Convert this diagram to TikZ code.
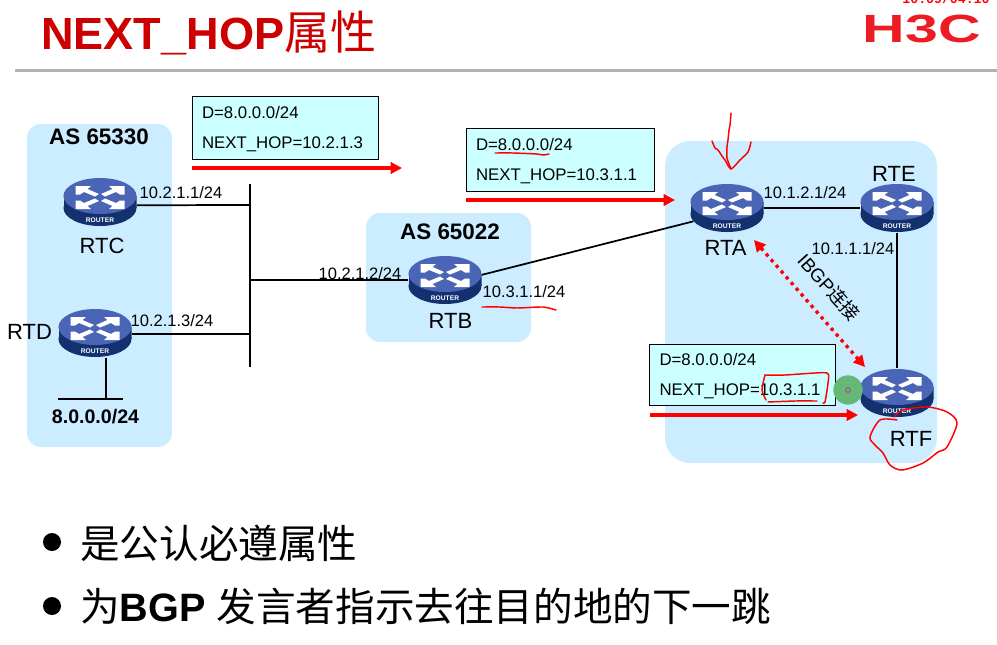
\documentclass[tikz,border=0pt]{standalone}
\usepackage{fontspec}
\setmainfont{Liberation Sans}
\newfontfamily\cjk{Noto Sans CJK SC}
\newfontfamily\clockfont{Liberation Mono}
\usetikzlibrary{arrows.meta}
\definecolor{panelblue}{HTML}{CCECFF}
\definecolor{boxcyan}{HTML}{CCFFFF}
\definecolor{routertop}{HTML}{4A65B5}
\definecolor{routerside}{HTML}{13306F}
\definecolor{h3cred}{HTML}{ED1C24}
\definecolor{titlered}{HTML}{CC0000}
\definecolor{rulegrey}{HTML}{B2B2B2}
\definecolor{markgreen}{HTML}{66B877}
\newcommand{\routerglyph}{\fill[white]
	(-24.5,-16) -- (-9,-16) -- (-12.5,-13) -- (-1,-8) -- (-5,-5.5) -- (-16,-10) -- (-20,-7.5) -- (-24.5,-7.5) -- cycle
	(24.5,-16) -- (9,-16) -- (12.5,-13) -- (1,-8) -- (5,-5.5) -- (16,-10) -- (20,-7.5) -- (24.5,-7.5) -- cycle
	(-24.5,7) -- (-9,7) -- (-12.5,4) -- (-1,-1) -- (-5,-3.5) -- (-16,1) -- (-20,-1.5) -- (-24.5,-1.5) -- cycle
	(24.5,7) -- (9,7) -- (12.5,4) -- (1,-1) -- (5,-3.5) -- (16,1) -- (20,-1.5) -- (24.5,-1.5) -- cycle;}
\begin{document}
\begin{tikzpicture}[x=0.75pt,y=-0.75pt,
	panel/.style={fill=panelblue, rounded corners=10.5pt, inner sep=0pt},
	infobox/.style={draw, fill=boxcyan, font=\fontsize{12.6}{22.5}\selectfont, align=left, text width=124.5pt, inner xsep=7.5pt, inner ysep=0pt, minimum height=47pt, execute at begin node=\rule{0pt}{10.8pt}},
	addr/.style={font=\fontsize{12.4}{14}\selectfont, inner sep=0pt},
	rname/.style={font=\fontsize{16.5}{18}\selectfont, inner sep=0pt},
	asname/.style={font=\fontsize{16.8}{18}\selectfont\bfseries, inner sep=0pt},
	wire/.style={line width=1.3pt},
	flow/.style={red, line width=2.5pt, -{Triangle[length=8.5pt,width=8.5pt]}},
	ink/.style={red, line width=1.1pt, line join=round, line cap=round},
	bulletdot/.style={circle, fill=black, minimum size=13.5pt, inner sep=0pt},
	bullettext/.style={font=\fontsize{29.7}{32}\selectfont, anchor=west, inner sep=0pt},
	router/.style={rectangle, minimum width=55pt, minimum height=37pt, inner sep=0pt,
		path picture={
			\begin{scope}[shift={(path picture bounding box.center)}]
				\fill[routerside] (-36.5,-6) rectangle (36.5,6);
				\fill[routerside] (0,6) ellipse [x radius=27.4pt, y radius=13.5pt];
				\fill[routertop] (0,-6) ellipse [x radius=27.4pt, y radius=13.5pt];
				\routerglyph
				\node[white, inner sep=0pt, font=\fontsize{5}{5}\selectfont\bfseries] (routertag) at (0,18) {ROUTER};
			\end{scope}
		}}]
	\useasboundingbox (0,0) rectangle (997,644);

	\node[anchor=base, inner sep=0pt, red, font=\fontsize{9.9}{10}\clockfont\bfseries] (clock) at (946,3) {10:09/04:10};
	\node[inner sep=0pt, text=h3cred, font=\fontsize{29.5}{30}\selectfont\bfseries] (logo) at (922,29) {\scalebox{1.5}[1]{H3C}};
	\node[anchor=base west, inner sep=0pt, text=titlered, font=\fontsize{33.8}{36}\selectfont\bfseries] (title) at (41,49) {NEXT\_HOP{\cjk\mdseries\fontsize{34.5}{36}\selectfont 属性}};
	\coordinate (rulel) at (15,70.5);
	\coordinate (ruler) at (997,70.5);
	\draw[rulegrey, line width=2.2pt] (rulel) -- (ruler);

	\node[panel, minimum width=108.75pt, minimum height=242.25pt] (as1) at (99.5,285.5) {};
	\node[panel, minimum width=123.75pt, minimum height=96.75pt] (as2) at (448.5,277.5) {};
	\node[panel, minimum width=204pt, minimum height=241.5pt, rounded corners=18.75pt] (as3) at (801,302) {};

	\node[asname] (as1name) at (99,137) {AS 65330};
	\node[asname] (as2name) at (450,232) {AS 65022};

	\node[router] (rtc) at (100,202) {};
	\node[router] (rtd) at (95,333) {};
	\node[router] (rtb) at (445,280) {};
	\node[router] (rta) at (727,208) {};
	\node[router] (rte) at (897,208) {};
	\node[router] (rtf) at (897,393) {};

	\coordinate (bustop) at (250,184);
	\coordinate (busbot) at (250,367);
	\coordinate (busc) at (250,205);
	\coordinate (busb) at (250,280);
	\coordinate (busd) at (250,334);
	\coordinate (lanl) at (58,399);
	\coordinate (lanr) at (123,399);
	\coordinate (lanm) at (106,399);

	\draw[wire] (bustop) -- (busbot);
	\draw[wire] (rtc.-5) -- (busc);
	\draw[wire] (rtb) -- (busb);
	\draw[wire] (rtd.east |- busd) -- (busd);
	\draw[wire] (lanm |- rtd.south) -- (lanm);
	\draw[wire] (lanl) -- (lanr);
	\draw[wire, shorten >=-2.5pt] (rtb.8) -- (rta.201);
	\draw[wire] (rta) -- (rte);
	\draw[wire] (rte) -- (rtf);

	\node[addr] (a1) at (181,192.5) {10.2.1.1/24};
	\node[addr] (a2) at (172,320.5) {10.2.1.3/24};
	\node[addr] (a3) at (360,273.5) {10.2.1.2/24};
	\node[addr] (a4) at (524,291.5) {10.3.1.1/24};
	\node[addr] (a5) at (805,192.5) {10.1.2.1/24};
	\node[addr] (a6) at (853,248.5) {10.1.1.1/24};

	\node[rname] (rtcname) at (102,245.5) {RTC};
	\node[rname] (rtdname) at (29.5,331.5) {RTD};
	\node[rname] (rtbname) at (450.5,320.5) {RTB};
	\node[rname] (rtaname) at (725.5,247.5) {RTA};
	\node[rname] (rtename) at (894,173.5) {RTE};
	\node[rname] (rtfname) at (911,438.5) {RTF};
	\node[inner sep=0pt, font=\fontsize{14.7}{16}\selectfont\bfseries] (lanname) at (95.5,417) {8.0.0.0/24};

	\node[infobox] (box1) at (285,128) {D=8.0.0.0/24\\NEXT\_HOP=10.2.1.3};
	\node[infobox, text width=126pt] (box2) at (560,160) {D=8.0.0.0/24\\NEXT\_HOP=10.3.1.1};
	\node[infobox, minimum height=46pt] (box3) at (742.5,375) {D=8.0.0.0/24\\NEXT\_HOP=10.3.1.1};

	\coordinate (f1a) at (192,168);
	\coordinate (f1b) at (402,168);
	\coordinate (f2a) at (466,200);
	\coordinate (f2b) at (675,200);
	\coordinate (f3a) at (650,415);
	\coordinate (f3b) at (858,415);
	\draw[flow] (f1a) -- (f1b);
	\draw[flow] (f2a) -- (f2b);
	\draw[flow] (f3a) -- (f3b);

	\coordinate (ibgpa) at (754,240);
	\coordinate (ibgpf) at (865,367);
	\draw[red, line width=2.5pt, dash pattern=on 2.5pt off 3.2pt, {Triangle[length=8.5pt,width=8.5pt]}-{Triangle[length=8.5pt,width=8.5pt]}] (ibgpa) -- (ibgpf);
	\node[rotate=-48, inner sep=0pt, font=\fontsize{14}{16}\selectfont] (ibgpname) at (829,287) {IBGP{\cjk 连接}};

	\node[circle, fill=markgreen, minimum size=22pt, inner sep=0pt] (mark) at (848,390) {};
	\node[circle, draw=magenta, line width=0.4pt, minimum size=3.5pt, inner sep=0pt] (markdot) at (848,390) {};

	\draw[ink] plot[smooth, tension=0.4] coordinates {(731,113) (730,125) (729,130) (728,140) (727,147) (727,158) (731,169)};
	\draw[ink] plot[smooth, tension=0.4] coordinates {(712,141) (715,148) (718,150) (722,156) (725,160) (731,169) (740,160) (748,152) (751,142)};
	\draw[ink] plot[smooth, tension=0.4] coordinates {(765,375) (762,390) (766,400)};
	\draw[ink] plot[smooth, tension=0.4] coordinates {(765,375) (785,375) (800,374) (827,373) (828,383) (825,402) (823,403)};
	\draw[ink] plot[smooth, tension=0.4] coordinates {(768,402) (795,401) (817,401)};
	\draw[ink] plot[smooth, tension=0.5] coordinates {(897,420) (880,420) (870,437) (875,445) (883,453) (890,465) (902,470) (923,463) (938,452) (947,447) (957,423) (947,412) (927,407) (903,410) (894,417)};
	\draw[ink] plot[smooth, tension=0.4] coordinates {(495,153) (513,153) (537,154) (543,155) (549,154)};
	\draw[ink] plot[smooth, tension=0.4] coordinates {(482,307) (500,307) (517,308) (543,307) (556,310)};

	\node[bulletdot] (b1) at (52,542) {};
	\node[bulletdot] (b2) at (52,606) {};
	\node[bullettext] (t1) at (80,543) {\cjk 是公认必遵属性};
	\node[bullettext] (t2) at (80,606) {{\cjk 为}\textbf{BGP} {\cjk 发言者指示去往目的地的下一跳}};
\end{tikzpicture}
\end{document}
